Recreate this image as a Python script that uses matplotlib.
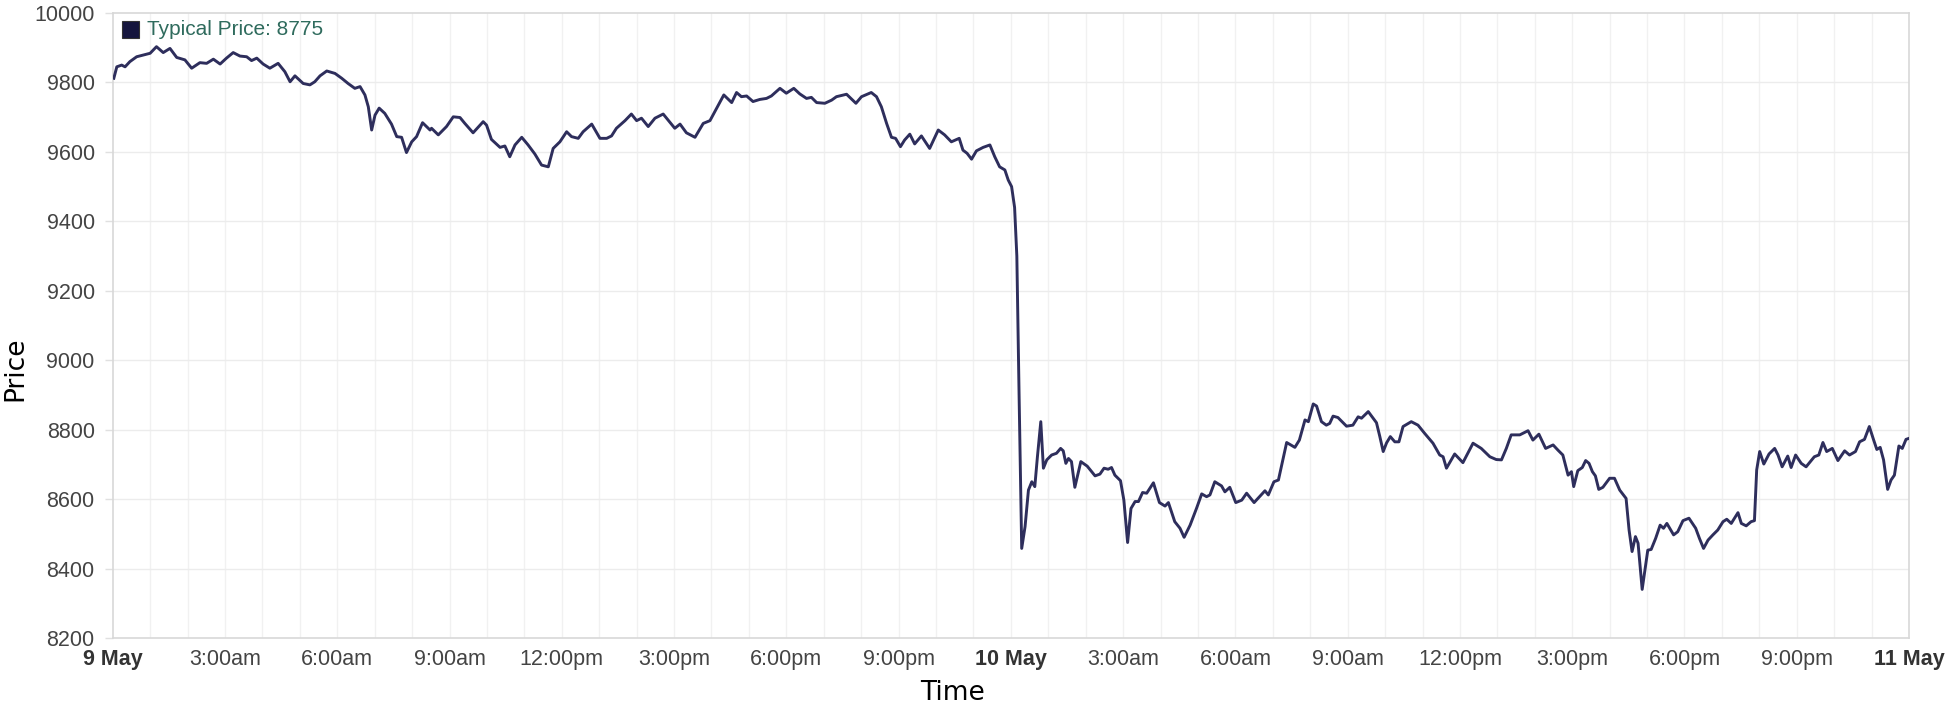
import matplotlib
matplotlib.use("Agg")
import matplotlib.pyplot as plt
from matplotlib.patches import Rectangle

# hours since 9 May 00:00
hours = [
    0.03, 0.11, 0.24, 0.33, 0.46, 0.64, 0.82, 1.00, 1.17, 1.35, 1.53, 1.71, 1.93, 2.11, 2.33, 2.51,
    2.69, 2.87, 3.04, 3.22, 3.40, 3.58, 3.71, 3.85, 4.02, 4.20, 4.42, 4.60, 4.74, 4.87, 5.09, 5.27,
    5.40, 5.54, 5.72, 5.94, 6.12, 6.29, 6.47, 6.61, 6.74, 6.83, 6.92, 7.01, 7.12, 7.27, 7.45, 7.59,
    7.72, 7.85, 7.99, 8.12, 8.28, 8.48,
    8.52, 8.70, 8.92, 9.10, 9.28, 9.41, 9.63, 9.90, 9.99, 10.12, 10.35, 10.48, 10.61, 10.75, 10.93,
    11.10, 11.28, 11.46, 11.64, 11.77, 11.95, 12.13, 12.26, 12.44, 12.57, 12.80, 13.02, 13.20, 13.33,
    13.46, 13.69, 13.86, 14.00, 14.13, 14.31, 14.49, 14.71, 14.84, 15.02, 15.16, 15.33, 15.56, 15.78,
    15.96, 16.09, 16.33, 16.54, 16.67,
    16.80, 16.94, 17.11, 17.29, 17.47, 17.60, 17.83, 18.00, 18.20, 18.36, 18.54, 18.67, 18.81, 19.03,
    19.21, 19.34, 19.61, 19.86, 20.01, 20.27, 20.41, 20.54, 20.68, 20.81, 20.92, 21.05, 21.16, 21.30,
    21.43, 21.61, 21.83, 22.06, 22.23, 22.41, 22.62, 22.72, 22.83, 22.95, 23.08, 23.26, 23.44, 23.57,
    23.70, 23.84, 23.93,
    24.02, 24.10, 24.16, 24.22, 24.29,
    24.38, 24.47, 24.56, 24.64, 24.71, 24.80, 24.87, 24.96, 25.09, 25.22, 25.33, 25.40, 25.47, 25.54,
    25.62, 25.71, 25.87, 26.04, 26.25, 26.38, 26.49, 26.60, 26.69, 26.78, 26.93, 27.02, 27.12, 27.21,
    27.32, 27.41, 27.52, 27.63, 27.81, 27.97, 28.12, 28.21, 28.38, 28.52, 28.63, 28.79, 28.96, 29.10,
    29.23, 29.32, 29.45, 29.63, 29.72, 29.85, 30.01, 30.17, 30.30, 30.50, 30.66, 30.79, 30.88, 31.03,
    31.15, 31.37, 31.59, 31.71, 31.86, 31.95,
    32.08, 32.17, 32.30, 32.43, 32.52, 32.61, 32.74, 32.97, 33.14, 33.28, 33.37, 33.55, 33.77, 33.86,
    33.95, 34.04, 34.14, 34.26, 34.37, 34.48, 34.70, 34.88, 35.06, 35.28, 35.46, 35.55, 35.64, 35.86,
    36.08, 36.35, 36.57, 36.80, 36.97, 37.11, 37.24, 37.37, 37.60, 37.82, 37.95, 38.11, 38.29, 38.49,
    38.62, 38.75, 38.89, 38.98,
    39.04, 39.15, 39.27, 39.36, 39.45, 39.54, 39.62, 39.71, 39.82, 40.00, 40.13, 40.27, 40.44, 40.52,
    40.60, 40.69, 40.76, 40.87, 41.02, 41.11, 41.23, 41.35, 41.44, 41.53, 41.71, 41.82, 41.96, 42.12,
    42.30, 42.40, 42.51, 42.63, 42.76, 42.89, 43.03, 43.13, 43.25, 43.43, 43.52, 43.65, 43.78, 43.87,
    43.93, 44.01, 44.12, 44.26, 44.41, 44.50, 44.61, 44.76, 44.85, 44.97, 45.12, 45.25, 45.47, 45.59,
    45.70, 45.80, 45.95, 46.10, 46.28, 46.41, 46.57, 46.68, 46.81, 46.94, 47.05, 47.14, 47.23, 47.32,
    47.43, 47.52, 47.61, 47.73, 47.82, 47.92, 48.00,
]

prices = [
    9812, 9845, 9850, 9845, 9860, 9874, 9879, 9884, 9903, 9886, 9898, 9872, 9865, 9841, 9857, 9855,
    9867, 9853, 9870, 9886, 9876, 9874, 9863, 9870, 9853, 9841, 9855, 9831, 9802, 9819, 9797, 9793,
    9802, 9819, 9833, 9826, 9812, 9797, 9783, 9788, 9764, 9730, 9663, 9706, 9726, 9711, 9680, 9644,
    9642, 9598, 9629, 9644, 9684, 9663,
    9668, 9649, 9673, 9701, 9699, 9682, 9655, 9687, 9677, 9636, 9613, 9617, 9586, 9620, 9642,
    9620, 9594, 9562, 9557, 9610, 9629, 9658, 9644, 9639, 9658, 9680, 9639, 9639, 9646,
    9668, 9690, 9709, 9690, 9697, 9673, 9697, 9709, 9692, 9668, 9680, 9655, 9642, 9682,
    9690, 9716, 9764, 9742, 9771,
    9759, 9761, 9745, 9751, 9754, 9761, 9783, 9769, 9783, 9767, 9754, 9757, 9742, 9740,
    9749, 9759, 9766, 9740, 9759, 9771, 9759, 9730, 9682, 9642, 9639, 9615, 9634, 9651,
    9623, 9646, 9610, 9663, 9649, 9629, 9639, 9605, 9596, 9579, 9603, 9613, 9620, 9586,
    9557, 9548, 9519,
    9500, 9440, 9300, 8900, 8458,
    8521, 8626, 8650, 8636, 8722, 8823, 8689, 8713, 8727, 8732, 8746, 8739, 8703, 8717,
    8708, 8634, 8708, 8695, 8667, 8672, 8689, 8686, 8691, 8669, 8653, 8597, 8475, 8573,
    8593, 8593, 8619, 8617, 8647, 8590, 8580, 8590, 8535, 8516, 8490, 8525, 8573, 8615,
    8607, 8612, 8650, 8638, 8621, 8634, 8590, 8597, 8617, 8590, 8609, 8624, 8612, 8650,
    8655, 8763, 8749, 8770, 8828, 8823,
    8874, 8868, 8823, 8813, 8818, 8839, 8835, 8810, 8813, 8837, 8833, 8852, 8820, 8780,
    8737, 8762, 8780, 8765, 8765, 8809, 8823, 8813, 8789, 8761, 8727, 8722, 8689, 8730,
    8705, 8761, 8746, 8722, 8714, 8713, 8746, 8785, 8785, 8797, 8770, 8787, 8746, 8756,
    8741, 8727, 8669, 8679,
    8636, 8682, 8691, 8711, 8703, 8679, 8667, 8628, 8634, 8660, 8660, 8626, 8602, 8511,
    8449, 8492, 8473, 8340, 8453, 8455, 8487, 8525, 8516, 8530, 8497, 8506, 8538, 8545,
    8516, 8487, 8458, 8482, 8497, 8511, 8535, 8542, 8530, 8561, 8530, 8523, 8535, 8538,
    8684, 8737, 8701, 8730, 8746, 8727, 8693, 8724, 8691, 8727, 8703, 8693, 8722, 8727,
    8763, 8737, 8746, 8711, 8739, 8727, 8737, 8765, 8772, 8809, 8772, 8743, 8749, 8713,
    8628, 8655, 8669, 8753, 8746, 8772, 8775,
]

tick_hours = [0, 3, 6, 9, 12, 15, 18, 21, 24, 27, 30, 33, 36, 39, 42, 45, 48]
tick_labels = ["9 May", "3:00am", "6:00am", "9:00am", "12:00pm", "3:00pm", "6:00pm", "9:00pm",
               "10 May", "3:00am", "6:00am", "9:00am", "12:00pm", "3:00pm", "6:00pm", "9:00pm",
               "11 May"]
y_ticks = [8200, 8400, 8600, 8800, 9000, 9200, 9400, 9600, 9800, 10000]
legend_label = "Typical Price: 8775"

W, H = 1951, 709
fig = plt.figure(figsize=(W / 100, H / 100), dpi=100)
left, right, top, bottom = 112.7, 1909, 13, 638
ax = fig.add_axes([left / W, 1 - bottom / H, (right - left) / W, (bottom - top) / H])

ax.set_xlim(0, 48)
ax.set_ylim(8200, 10000)

# grid
for h in range(1, 48):
    ax.axvline(h, color="#f1f1f1", lw=1.0, zorder=0)
for v in y_ticks[1:-1]:
    ax.axhline(v, color="#ececec", lw=1.0, zorder=0)

ax.plot(hours, prices, color="#2e2e5c", lw=2.1, solid_joinstyle="round", zorder=3)

for s in ax.spines.values():
    s.set_color("#d8d8d8")
    s.set_linewidth(1.2)

font = "Liberation Sans"
ax.set_yticks(y_ticks)
ax.set_yticklabels([str(v) for v in y_ticks], fontsize=15.5, color="#444444", family=font)
ax.tick_params(axis="y", length=6, width=1.0, color="#e0e0e0", pad=7)
ax.set_xticks(tick_hours)
ax.set_xticklabels(tick_labels, fontsize=15.5, color="#444444", family=font)
ax.tick_params(axis="x", length=0, pad=8)
for lbl in ax.get_xticklabels():
    if "May" in lbl.get_text():
        lbl.set_fontweight("bold")
        lbl.set_color("#333333")

# legend
ax.add_patch(Rectangle((0.0052, 0.96), 0.0094, 0.027, transform=ax.transAxes,
                       facecolor="#15153d", edgecolor="#333333", lw=0.8, zorder=5, clip_on=False))
ax.text(0.0191, 0.9735, legend_label, transform=ax.transAxes, fontsize=15, color="#2f6b5d",
        family=font, va="center", ha="left", zorder=5)

fig.text(952 / W, 1 - 693 / H, "Time", fontsize=19, ha="center", va="center", color="black")
fig.text(15 / W, 1 - 369 / H, "Price", fontsize=19, ha="center", va="center",
         rotation=90, color="black")

fig.savefig("out.png", dpi=100, facecolor="white")
